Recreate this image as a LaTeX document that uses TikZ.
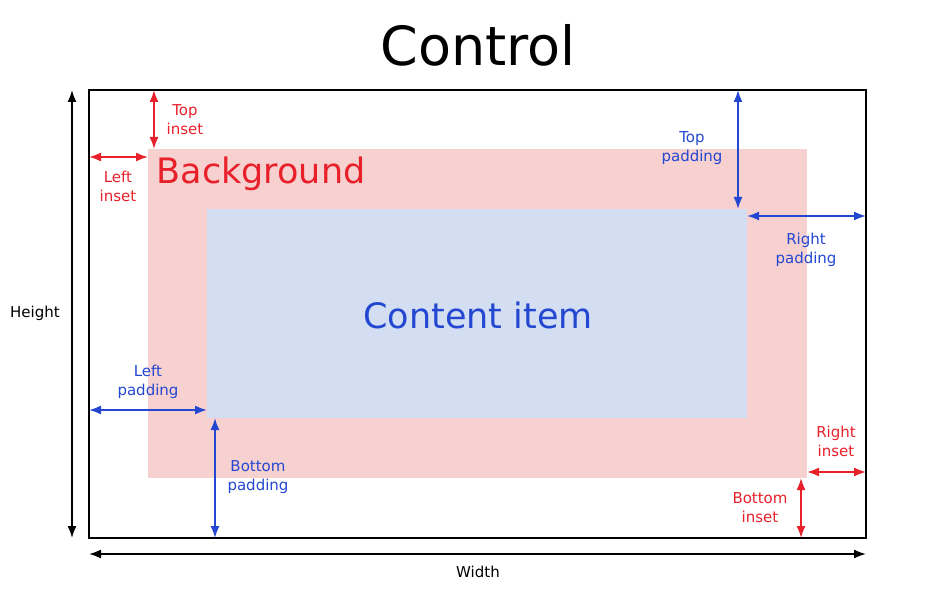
\documentclass[tikz,border=0pt]{standalone}
\usepackage{fontspec}
\setmainfont{DejaVu Sans}
\usetikzlibrary{arrows.meta}
\definecolor{cred}{HTML}{E8202A}
\definecolor{cblue}{HTML}{2347D0}
\definecolor{fpink}{HTML}{F7D0D0}
\definecolor{fblue}{HTML}{D3DEF3}
\begin{document}
\begin{tikzpicture}[x=1pt,y=-1pt,
  dim/.style={{Latex[length=12pt,width=9pt]}-{Latex[length=12pt,width=9pt]},line width=1.8pt},
  lab/.style={font=\fontsize{15}{19}\selectfont,align=center}]
\useasboundingbox (0,0) rectangle (941,601);
\fill[fpink] (148,149) rectangle (807,478);
\fill[fblue] (207,209) rectangle (747,418);
\draw[line width=1.6pt] (89,90) rectangle (866,538);
\node (title) at (478,45) {\fontsize{54}{60}\selectfont Control};
\node[anchor=west,text=cred] (bg) at (153,174) {\fontsize{35}{40}\selectfont Background};
\node[text=cblue] (ci) at (478,315) {\fontsize{35}{40}\selectfont Content item};
\coordinate (h1) at (72,90); \coordinate (h2) at (72,538);
\coordinate (w1) at (89,554); \coordinate (w2) at (866,554);
\coordinate (ti1) at (154,90); \coordinate (ti2) at (154,149);
\coordinate (li1) at (89,157); \coordinate (li2) at (148,157);
\coordinate (tp1) at (738,90); \coordinate (tp2) at (738,209);
\coordinate (rp1) at (747,216); \coordinate (rp2) at (866,216);
\coordinate (lp1) at (89,410); \coordinate (lp2) at (207,410);
\coordinate (bp1) at (215,418); \coordinate (bp2) at (215,538);
\coordinate (ri1) at (807,472); \coordinate (ri2) at (866,472);
\coordinate (bi1) at (801,478); \coordinate (bi2) at (801,538);
\draw[dim] (h1) -- (h2);
\draw[dim] (w1) -- (w2);
\draw[dim,cred] (ti1) -- (ti2);
\draw[dim,cred] (li1) -- (li2);
\draw[dim,cblue] (tp1) -- (tp2);
\draw[dim,cblue] (rp1) -- (rp2);
\draw[dim,cblue] (lp1) -- (lp2);
\draw[dim,cblue] (bp1) -- (bp2);
\draw[dim,cred] (ri1) -- (ri2);
\draw[dim,cred] (bi1) -- (bi2);
\node[lab] (hl) at (35,313) {Height};
\node[lab] (wl) at (478,572) {Width};
\node[lab,text=cred] (til) at (185,120) {Top\\inset};
\node[lab,text=cred] (lil) at (118,186) {Left\\inset};
\node[lab,text=cblue] (tpl) at (692,148) {Top\\padding};
\node[lab,text=cblue] (rpl) at (806,250) {Right\\padding};
\node[lab,text=cblue] (lpl) at (148,382) {Left\\padding};
\node[lab,text=cblue] (bpl) at (258,477) {Bottom\\padding};
\node[lab,text=cred] (ril) at (836,441) {Right\\inset};
\node[lab,text=cred] (bil) at (760,508) {Bottom\\inset};
\end{tikzpicture}
\end{document}
